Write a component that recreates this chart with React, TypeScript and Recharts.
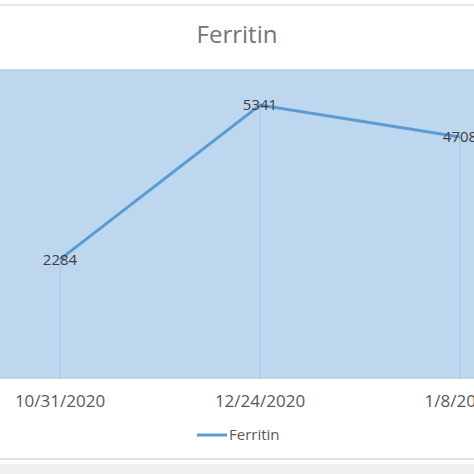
import React from "react";
import { LineChart, Line, XAxis, YAxis, CartesianGrid, LabelList, ReferenceLine } from "recharts";

const dates = ["10/31/2020", "12/24/2020", "1/8/2021"];
const ferritin = [2284, 5341, 4708];
const seriesName = "Ferritin";
const chartTitle = "Ferritin";
const yMin = -85;
const yMax = 6054;

const data = dates.map((d, i) => ({ date: d, value: ferritin[i] }));

const FONT = "'Open Sans', 'Liberation Sans', sans-serif";

export default function App() {
  return (
    <div
      style={{
        position: "absolute",
        left: 0,
        top: 0,
        width: 474,
        height: 474,
        overflow: "hidden",
        background: "#ffffff",
        fontFamily: FONT,
      }}
    >
      <div style={{ position: "absolute", left: 0, top: 4, width: 474, height: 2, background: "#e6e6e6" }} />
      <div style={{ position: "absolute", left: 0, top: 458, width: 474, height: 2, background: "#e2e2e2" }} />
      <div style={{ position: "absolute", left: 0, top: 464, width: 474, height: 10, background: "#efefef" }} />
      <div style={{ position: "absolute", left: 0, top: 0 }}>
        <LineChart
          width={474}
          height={474}
          data={data}
          margin={{ top: 69, right: 0, bottom: 65, left: 0 }}
        >
          <CartesianGrid fill="#bdd7ee" horizontal={false} vertical={false} stroke="none" />
          <XAxis
            dataKey="date"
            axisLine={false}
            tickLine={false}
            tickMargin={10}
            height={30}
            padding={{ left: 60, right: 14 }}
            interval={0}
            tick={{ fontSize: 17, fill: "#595959", fontFamily: FONT }}
          />
          <YAxis hide domain={[yMin, yMax]} allowDataOverflow />
          {data.map((d) => (
            <ReferenceLine
              key={d.date}
              segment={[
                { x: d.date, y: yMin },
                { x: d.date, y: d.value },
              ]}
              stroke="#abc6e2"
              strokeWidth={1}
              ifOverflow="visible"
            />
          ))}
          <Line
            type="linear"
            dataKey="value"
            name={seriesName}
            stroke="#5b9bd5"
            strokeWidth={3}
            dot={false}
            activeDot={false}
            isAnimationActive={false}
          >
            <LabelList
              dataKey="value"
              position="center"
              fill="#404040"
              fontSize={15}
              fontFamily={FONT}
            />
          </Line>
        </LineChart>
      </div>
      <svg
        width={474}
        height={474}
        style={{ position: "absolute", left: 0, top: 0, pointerEvents: "none" }}
      >
        <text x={237} y={43} textAnchor="middle" fontSize={24} fill="#757575" fontFamily={FONT}>
          {chartTitle}
        </text>
        <line x1={197} y1={435} x2={227} y2={435} stroke="#5b9bd5" strokeWidth={3} />
        <text x={229} y={440} fontSize={15} fill="#595959" fontFamily={FONT}>
          {seriesName}
        </text>
      </svg>
    </div>
  );
}
